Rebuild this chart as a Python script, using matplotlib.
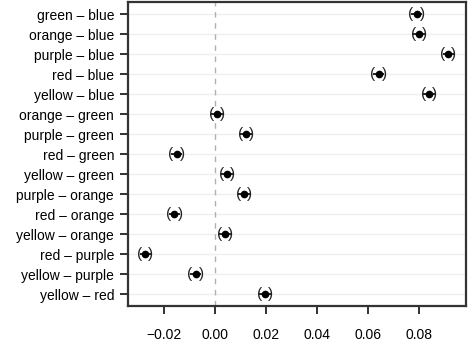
import matplotlib.pyplot as plt

labels = ['green – blue', 'orange – blue', 'purple – blue', 'red – blue', 'yellow – blue',
          'orange – green', 'purple – green', 'red – green', 'yellow – green',
          'purple – orange', 'red – orange', 'yellow – orange',
          'red – purple', 'yellow – purple', 'yellow – red']
estimate = [0.0792, 0.0801, 0.0916, 0.0643, 0.0840,
            0.0009, 0.0123, -0.0149, 0.0048,
            0.0115, -0.0158, 0.0040,
            -0.0272, -0.0075, 0.0197]
half_ci = [0.0022] * 15

plt.rcParams['font.family'] = ['Liberation Sans', 'DejaVu Sans']

fig = plt.figure(figsize=(4.74, 3.55), dpi=100)
ax = fig.add_axes([0.270, 0.138, 0.713, 0.856])

ypos = list(range(len(labels)))
for y in ypos:
    ax.axhline(y, color='#efefef', lw=1, zorder=0)
ax.axvline(0, color='#b0b0b0', lw=1, ls=(0, (4, 4)), zorder=1)

ax.errorbar(estimate, ypos, xerr=half_ci, fmt='o', color='black',
            ms=4.5, elinewidth=1.2, capsize=0, zorder=3)
for x, y, h in zip(estimate, ypos, half_ci):
    ax.text(x - h, y, '(', ha='center', va='center', fontsize=11, color='#222222')
    ax.text(x + h, y, ')', ha='center', va='center', fontsize=11, color='#222222')

ax.set_yticks(ypos)
ax.set_yticklabels(labels, fontsize=10)
ax.set_ylim(len(labels) - 0.4, -0.6)
ax.set_xlim(-0.034, 0.0985)
ax.set_xticks([-0.02, 0.0, 0.02, 0.04, 0.06, 0.08])
ax.set_xticklabels(['\u22120.02', '0.00', '0.02', '0.04', '0.06', '0.08'], fontsize=10)
ax.tick_params(direction='out', length=6, width=1.3, color='#222222', pad=4)
ax.tick_params(axis='x', pad=10)
for s in ax.spines.values():
    s.set_linewidth(1.6)
    s.set_color('#333333')

fig.savefig('out.png', dpi=100)
